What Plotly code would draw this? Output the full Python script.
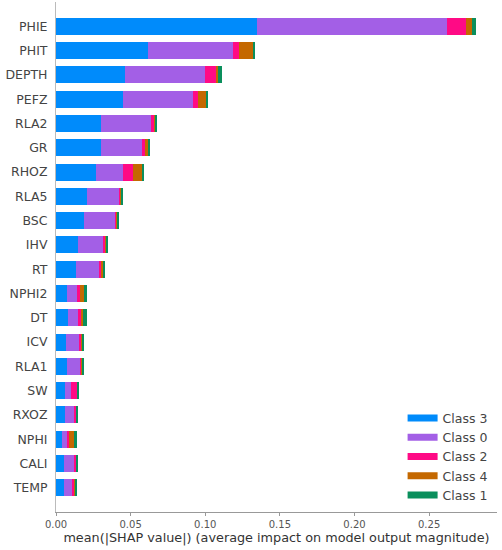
import plotly.graph_objects as go

features = ["PHIE", "PHIT", "DEPTH", "PEFZ", "RLA2", "GR", "RHOZ", "RLA5", "BSC", "IHV",
            "RT", "NPHI2", "DT", "ICV", "RLA1", "SW", "RXOZ", "NPHI", "CALI", "TEMP"]

class3 = [0.1350, 0.0616, 0.0460, 0.0446, 0.0299, 0.0299, 0.0265, 0.0207, 0.0187, 0.0146,
          0.0133, 0.0075, 0.0082, 0.0068, 0.0075, 0.0059, 0.0062, 0.0042, 0.0052, 0.0052]
class0 = [0.1273, 0.0571, 0.0541, 0.0472, 0.0340, 0.0279, 0.0181, 0.0212, 0.0214, 0.0166,
          0.0159, 0.0065, 0.0064, 0.0085, 0.0089, 0.0040, 0.0060, 0.0037, 0.0070, 0.0054]
class2 = [0.0121, 0.0040, 0.0074, 0.0032, 0.0024, 0.0018, 0.0072, 0.0014, 0.0007, 0.0020,
          0.0013, 0.0018, 0.0025, 0.0018, 0.0005, 0.0043, 0.0016, 0.0010, 0.0016, 0.0020]
class4 = [0.0045, 0.0094, 0.0011, 0.0053, 0.0005, 0.0018, 0.0063, 0.0004, 0.0004, 0.0005,
          0.0012, 0.0027, 0.0012, 0.0005, 0.0007, 0.0005, 0.0002, 0.0037, 0.0002, 0.0005]
class1 = [0.0022, 0.0011, 0.0027, 0.0018, 0.0009, 0.0016, 0.0008, 0.0014, 0.0007, 0.0013,
          0.0009, 0.0026, 0.0022, 0.0009, 0.0009, 0.0006, 0.0003, 0.0012, 0.0004, 0.0005]

series = [("Class 3", class3, "#008bfb"),
          ("Class 0", class0, "#a35fe6"),
          ("Class 2", class2, "#ff0a85"),
          ("Class 4", class4, "#c46800"),
          ("Class 1", class1, "#0a8f5c")]

xticks = [0.0, 0.05, 0.10, 0.15, 0.20, 0.25]
xticklabels = ["0.00", "0.05", "0.10", "0.15", "0.20", "0.25"]
xlabel = "mean(|SHAP value|) (average impact on model output magnitude)"

fig = go.Figure()
for name, vals, col in series:
    fig.add_trace(go.Bar(
        y=features, x=vals, name=name, orientation="h", showlegend=False,
        marker=dict(color=col, line=dict(width=0)), width=0.7,
    ))
# legend entries drawn as wide patches (like matplotlib's legend handles)
for name, vals, col in series:
    fig.add_trace(go.Scatter(
        x=[None], y=[None], name=name, mode="lines",
        line=dict(color=col, width=7), showlegend=True,
    ))

font = "DejaVu Sans"
fig.update_layout(
    width=502, height=550,
    barmode="stack",
    paper_bgcolor="white", plot_bgcolor="white",
    margin=dict(l=56, r=5, t=2, b=38),
    font=dict(family=font, color="#333333"),
    showlegend=True,
    legend=dict(x=0.99, y=0.003, xanchor="right", yanchor="bottom",
                traceorder="normal",
                font=dict(size=12.5, color="#444444"), bgcolor="rgba(0,0,0,0)",
                tracegroupgap=0, itemwidth=30),
    xaxis=dict(range=[0, 0.2955], tickvals=xticks, ticktext=xticklabels,
               showgrid=False, zeroline=False, showline=True, linecolor="#999999",
               linewidth=1, ticks="outside", ticklen=3, tickcolor="#999999",
               tickfont=dict(size=10, color="#555555"), automargin=False,
               title=dict(text=xlabel, font=dict(size=12.8, color="#333333"), standoff=3)),
    yaxis=dict(categoryorder="array", categoryarray=features[::-1], range=[-1, 20],
               showgrid=False, zeroline=False, showline=True, linecolor="#bbbbbb",
               linewidth=1, ticks="", ticklabelstandoff=5, automargin=False,
               tickfont=dict(size=12.5, color="#444444")),
)

fig.write_html("out.html", config={"displayModeBar": False},
               post_script="document.body.style.margin='0px';")
